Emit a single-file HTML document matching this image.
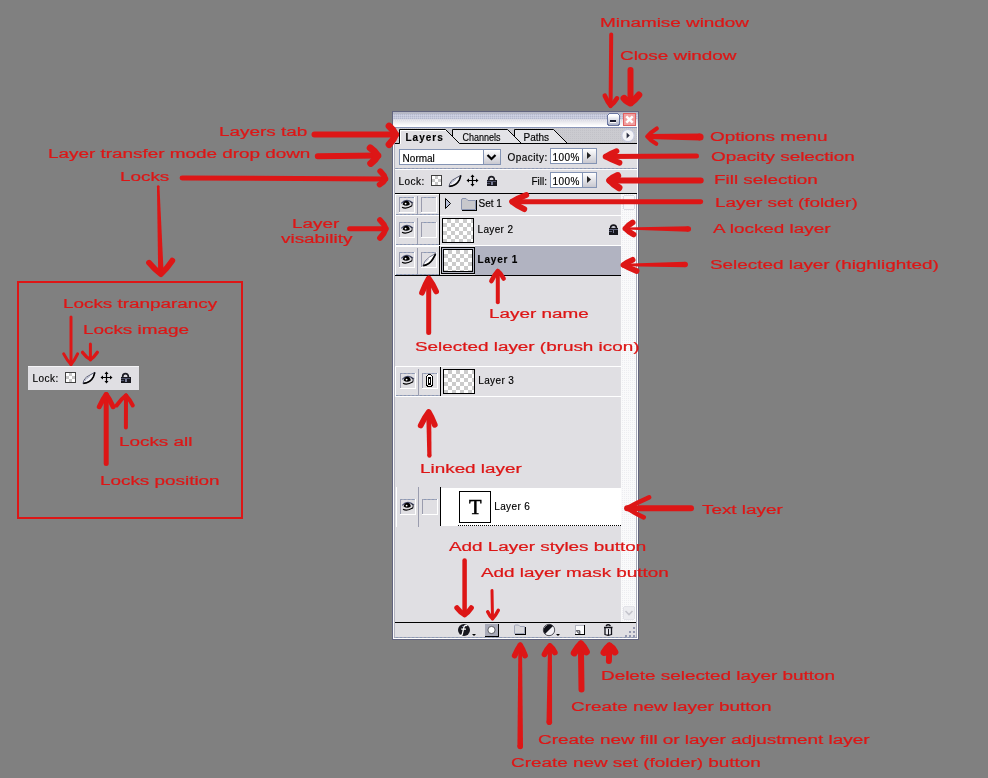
<!DOCTYPE html>
<html><head><meta charset="utf-8"><style>
html,body{margin:0;padding:0;}
body{width:988px;height:778px;background:#808080;position:relative;overflow:hidden;font-family:"Liberation Sans",sans-serif;}
.a{position:absolute;box-sizing:border-box;}
.t{position:absolute;font:12.5px/15px "Liberation Sans",sans-serif;color:#dd1616;transform:scaleX(1.51);transform-origin:0 0;white-space:nowrap;z-index:10;-webkit-text-stroke:0.22px #dd1616;}
.ov{position:absolute;left:0;top:0;z-index:9;}
.ui{position:absolute;font:11px/13px "Liberation Sans",sans-serif;color:#000;white-space:nowrap;}
</style></head><body>
<svg class="pn" width="988" height="778" viewBox="0 0 988 778" style="position:absolute;left:0;top:0;will-change:transform" shape-rendering="geometricPrecision"><style>.pn rect{shape-rendering:crispEdges}</style><defs><pattern id="chk" width="8" height="8" patternUnits="userSpaceOnUse"><rect width="8" height="8" fill="#fff"/><rect width="4" height="4" fill="#cbcbcb"/><rect x="4" y="4" width="4" height="4" fill="#cbcbcb"/></pattern><pattern id="chkL" x="444" y="250" width="8" height="8" patternUnits="userSpaceOnUse"><rect width="8" height="8" fill="#fff"/><rect x="4" width="4" height="4" fill="#cbcbcb"/><rect y="4" width="4" height="4" fill="#cbcbcb"/></pattern><pattern id="dashh" width="4" height="1" patternUnits="userSpaceOnUse"><rect width="4" height="1" fill="#a4a6b8"/><rect width="2" height="1" fill="#8c9ab6"/></pattern><pattern id="dashv" width="1" height="4" patternUnits="userSpaceOnUse"><rect width="1" height="4" fill="#a4a6b8"/><rect width="1" height="2" fill="#8c9ab6"/></pattern><pattern id="dots" width="2" height="2" patternUnits="userSpaceOnUse"><rect width="2" height="2" fill="#cbcbd0"/><rect width="1" height="1" fill="#c2c2c8"/></pattern><pattern id="sdots" width="2" height="2" patternUnits="userSpaceOnUse"><rect width="2" height="2" fill="#fafafb"/><rect width="1" height="1" fill="#ededf1"/></pattern><pattern id="tdots" width="2" height="2" patternUnits="userSpaceOnUse"><rect width="2" height="2" fill="#c4c8dc"/><rect width="1" height="1" fill="#b4b8cc"/><rect x="1" y="1" width="1" height="1" fill="#d0d2e2"/></pattern><pattern id="tdots2" width="2" height="2" patternUnits="userSpaceOnUse"><rect width="2" height="2" fill="#dcdce6"/><rect width="1" height="1" fill="#e8e8ee"/></pattern><linearGradient id="title" x1="0" y1="0" x2="0" y2="1"><stop offset="0" stop-color="#e4e4ea"/><stop offset="1" stop-color="#ffffff"/></linearGradient><linearGradient id="minb" x1="0" y1="0" x2="0" y2="1"><stop offset="0.2" stop-color="#ffffff"/><stop offset="1" stop-color="#a8aec4"/></linearGradient><linearGradient id="btn" x1="0" y1="0" x2="0" y2="1"><stop offset="0" stop-color="#ffffff"/><stop offset="1" stop-color="#c8c8d0"/></linearGradient></defs><defs><pattern id="ck1" x="443" y="219" width="8" height="8" patternUnits="userSpaceOnUse"><rect width="8" height="8" fill="#fff"/><rect x="4" width="4" height="4" fill="#cbcbcb"/><rect y="4" width="4" height="4" fill="#cbcbcb"/></pattern><pattern id="ck2" x="444" y="250" width="8" height="8" patternUnits="userSpaceOnUse"><rect width="8" height="8" fill="#fff"/><rect x="4" width="4" height="4" fill="#cbcbcb"/><rect y="4" width="4" height="4" fill="#cbcbcb"/></pattern><pattern id="ck3" x="444" y="370" width="8" height="8" patternUnits="userSpaceOnUse"><rect width="8" height="8" fill="#fff"/><rect x="4" width="4" height="4" fill="#cbcbcb"/><rect y="4" width="4" height="4" fill="#cbcbcb"/></pattern></defs><rect x="392" y="111" width="247" height="529" fill="#62647e" /><rect x="393" y="112" width="245" height="527" fill="#e0dfe3" /><rect x="393" y="112" width="1" height="527" fill="#f8f8fa" /><rect x="394" y="128" width="1" height="509" fill="#b2b2be" /><rect x="637" y="112" width="1" height="527" fill="#ffffff" /><rect x="636" y="127" width="1" height="511" fill="#a8aab8" /><rect x="393" y="638" width="245" height="1" fill="#ffffff" /><rect x="394" y="637" width="243" height="1" fill="url(#dashh)" /><rect x="393" y="112" width="245" height="2" fill="#b6b8c6" /><rect x="393" y="114" width="245" height="5" fill="url(#tdots)" /><rect x="393" y="119" width="245" height="2" fill="url(#tdots2)" /><rect x="393" y="121" width="245" height="5" fill="url(#title)" /><rect x="393" y="126" width="245" height="1" fill="#ffffff" /><rect x="607.5" y="113.5" width="12" height="12" rx="3" fill="url(#minb)" stroke="#6a76a0"/><rect x="610" y="120" width="6" height="2" fill="#1a1e30" /><rect x="610" y="122" width="6" height="1" fill="#ffffff" /><rect x="623.5" y="113.5" width="12" height="12" rx="1" fill="#f0a0a0" stroke="#e06060"/><path d="M626.3 116.3L632.7 122.7M632.7 116.3L626.3 122.7" stroke="#fff" stroke-width="2.5"/><rect x="394" y="127" width="243" height="1" fill="#8a96b8" /><rect x="394" y="128" width="243" height="15" fill="url(#dots)" /><rect x="394" y="127" width="1" height="17" fill="#8a96b8" /><path d="M514.5 143.5V129.5H553.5L567.5 143.5Z" fill="#e3e3e7"/><path d="M514.5 143.5V129.5H553.5L567.5 143.5" fill="none" stroke="#000" stroke-width="1"/><path d="M452.5 143.5V129.5H507.5L521.5 143.5Z" fill="#e3e3e7"/><path d="M452.5 143.5V129.5H507.5L521.5 143.5" fill="none" stroke="#000" stroke-width="1"/><rect x="395" y="143" width="242" height="1" fill="#000" /><path d="M399.5 144V129.5H445.5L459.5 143.5V144Z" fill="#e0dfe3"/><path d="M399.5 143.5V129.5H445.5L459.5 143.5" fill="none" stroke="#000"/><rect x="400" y="130" width="46" height="1" fill="#ffffff" /><rect x="400" y="130" width="1" height="14" fill="#ffffff" /><text x="0" y="0" transform="translate(405.5 140.7) scale(1.0 1)" font-family="Liberation Sans" font-size="10" font-weight="bold" fill="#000" stroke="#000" stroke-width="0.15" letter-spacing="1.0">Layers</text><text x="0" y="0" transform="translate(462.5 140.7) scale(0.9 1)" font-family="Liberation Sans" font-size="10" font-weight="normal" fill="#000" stroke="#000" stroke-width="0.15">Channels</text><text x="0" y="0" transform="translate(523.5 140.7) scale(1.0 1)" font-family="Liberation Sans" font-size="10" font-weight="normal" fill="#000" stroke="#000" stroke-width="0.15">Paths</text><circle cx="628" cy="135.5" r="6.2" fill="#f4f4f7" stroke="#c4c8dc" stroke-width="1.2"/><path d="M626.6 132.6L629.8 135.6L626.6 138.6Z" fill="#2a2e40"/><rect x="395" y="144" width="242" height="49" fill="#e0dfe3" /><rect x="399" y="149" width="102" height="16" fill="#8494b4" /><rect x="400" y="150" width="100" height="14" fill="#fff" /><rect x="483" y="149" width="1" height="16" fill="#8494b4" /><rect x="484" y="150" width="16" height="14" fill="url(#btn)" /><path d="M487.5 155L491.5 159L495.5 155" fill="none" stroke="#000" stroke-width="2.2"/><text x="0" y="0" transform="translate(402.6 161.7) scale(1.0 1)" font-family="Liberation Sans" font-size="10" font-weight="normal" fill="#000" stroke="#000" stroke-width="0.15">Normal</text><text x="0" y="0" transform="translate(507.5 160.7) scale(1.0 1)" font-family="Liberation Sans" font-size="10" font-weight="normal" fill="#000" stroke="#000" stroke-width="0.15" letter-spacing="0.45">Opacity:</text><rect x="550" y="148" width="47" height="16" fill="#8494b4" /><rect x="551" y="149" width="45" height="14" fill="#fff" /><rect x="582" y="148" width="1" height="16" fill="#8494b4" /><rect x="583" y="149" width="13" height="14" fill="url(#btn)" /><path d="M587 152L591 155.5L587 159Z" fill="#222"/><text x="0" y="0" transform="translate(552.6 160.7) scale(1.0 1)" font-family="Liberation Sans" font-size="10" font-weight="normal" fill="#000" stroke="#000" stroke-width="0.15" letter-spacing="0.4">100%</text><rect x="550" y="172" width="47" height="16" fill="#8494b4" /><rect x="551" y="173" width="45" height="14" fill="#fff" /><rect x="582" y="172" width="1" height="16" fill="#8494b4" /><rect x="583" y="173" width="13" height="14" fill="url(#btn)" /><path d="M587 176L591 179.5L587 183Z" fill="#222"/><text x="0" y="0" transform="translate(552.6 184.7) scale(1.0 1)" font-family="Liberation Sans" font-size="10" font-weight="normal" fill="#000" stroke="#000" stroke-width="0.15" letter-spacing="0.4">100%</text><rect x="395" y="168" width="242" height="1" fill="url(#dashh)" /><rect x="395" y="169" width="242" height="1" fill="#fff" /><text x="0" y="0" transform="translate(398.6 184.7) scale(1.0 1)" font-family="Liberation Sans" font-size="10" font-weight="normal" fill="#000" stroke="#000" stroke-width="0.15" letter-spacing="0.45">Lock:</text><text x="0" y="0" transform="translate(531.5 184.7) scale(1.0 1)" font-family="Liberation Sans" font-size="10" font-weight="normal" fill="#000" stroke="#000" stroke-width="0.15">Fill:</text><rect x="431" y="175" width="11" height="11" fill="#404040" /><rect x="432" y="176" width="9" height="9" fill="#fff" /><rect x="432" y="179" width="3" height="3" fill="#c8c8c8" /><rect x="435" y="176" width="3" height="3" fill="#c8c8c8" /><rect x="435" y="182" width="3" height="3" fill="#c8c8c8" /><rect x="438" y="179" width="3" height="3" fill="#c8c8c8" /><g transform="translate(0 0)"><path d="M449 186.6C449.6 182.6 451.6 180 455 178.6L461 175.2L459.6 179.6C457.8 183.6 454 186.2 449 186.6Z" fill="#f2f2f6" stroke="#4a4e66" stroke-width="0.9"/><path d="M449.4 186.4C454 186 457.6 183.4 459.4 179.8L460.8 175.6" fill="none" stroke="#000" stroke-width="1.6"/><path d="M450.8 184C452 181.8 453.6 180.6 455.6 179.6" fill="none" stroke="#9a9eb8" stroke-width="1"/></g><path d="M472.5 175.5V185.5M467.5 180.5H477.5" stroke="#000" stroke-width="1.2"/><path d="M472.5 174.5L470.5 177.0H474.5ZM472.5 186.5L470.5 184.0H474.5ZM466.5 180.5L469.0 178.5V182.5ZM478.5 180.5L476.0 178.5V182.5Z" fill="#000"/><g transform="translate(0 0)"><path d="M488.7 180.5V179.4A2.8 2.8 0 0 1 494.3 179.4V180.5" fill="none" stroke="#1c1c24" stroke-width="1.7"/><rect x="487" y="180" width="10" height="6" fill="#18181f"/><rect x="487.4" y="180.5" width="9" height="1" fill="#50546c"/><rect x="487.4" y="182.8" width="3" height="0.9" fill="#50546c"/><rect x="491.2" y="182" width="1.6" height="2.8" fill="#7a7e98"/></g><rect x="395" y="193" width="242" height="1" fill="#000" /><rect x="395" y="194" width="226" height="428" fill="#e0dfe3" /><rect x="621" y="194" width="15" height="428" fill="url(#sdots)" /><rect x="623.5" y="195.5" width="11" height="14" rx="2" fill="#f6f6f8" stroke="#dadae2"/><rect x="623.5" y="606.5" width="11" height="13" rx="2" fill="#ececf0" stroke="#e2e2e8"/><path d="M625.5 611L629 614.5L632.5 611" fill="none" stroke="#c4c4cc" stroke-width="1.6"/><rect x="395" y="194" width="44" height="1" fill="#fff" /><rect x="395" y="194" width="1" height="21" fill="#fff" /><rect x="399" y="197" width="16" height="16" fill="#e0dfe3" /><rect x="399" y="197" width="15" height="1" fill="url(#dashh)" /><rect x="399" y="197" width="1" height="15" fill="#9a9cae" /><rect x="399" y="212" width="16" height="1" fill="#fff" /><rect x="414" y="197" width="1" height="16" fill="#fff" /><g shape-rendering="geometricPrecision"><path d="M401.2 203.4Q406.5 197.4 413.0 203.0" stroke="#4a5070" stroke-width="1.1" fill="none"/><path d="M402.6 204.6Q403.2 201.0 406.2 200.8Q409.6 201.0 409.8 204.6Q406.2 207.0 402.6 204.6Z" fill="#000"/><path d="M402.0 207.3Q406.0 209.6 412.0 205.8" stroke="#000" stroke-width="1.1" fill="none"/><path d="M410.6 201.6Q413.2 203.8 411.8 206.0" stroke="#101018" stroke-width="0.9" fill="none"/><circle cx="405.6" cy="203.6" r="0.9" fill="#fff"/></g><rect x="417" y="196" width="1" height="18" fill="#9a9cae" /><rect x="421" y="197" width="16" height="16" fill="#e0dfe3" /><rect x="421" y="197" width="15" height="1" fill="url(#dashh)" /><rect x="421" y="197" width="1" height="15" fill="#9a9cae" /><rect x="421" y="212" width="16" height="1" fill="#fff" /><rect x="436" y="197" width="1" height="16" fill="#fff" /><rect x="396" y="214" width="43" height="1" fill="url(#dashh)" /><rect x="395" y="215" width="226" height="1" fill="#fff" /><rect x="439" y="193" width="1" height="83" fill="#000" /><path d="M445.5 198.5V208.5L450.5 203.5Z" fill="#b8c0d8" stroke="#000"/><path d="M461.5 209.5V200Q461.5 198.5 463 198.5H466L468 200.5H475.5V209.5Z" fill="#c8c8cc" stroke="#8a94b0"/><rect x="462" y="210" width="15" height="1" fill="#000" /><rect x="476" y="200" width="1" height="11" fill="#000" /><text x="0" y="0" transform="translate(478.5 206.7) scale(1.0 1)" font-family="Liberation Sans" font-size="10" font-weight="normal" fill="#000" stroke="#000" stroke-width="0.15">Set 1</text><rect x="395" y="216" width="1" height="29" fill="#fff" /><rect x="399" y="222" width="16" height="16" fill="#e0dfe3" /><rect x="399" y="222" width="15" height="1" fill="url(#dashh)" /><rect x="399" y="222" width="1" height="15" fill="#9a9cae" /><rect x="399" y="237" width="16" height="1" fill="#fff" /><rect x="414" y="222" width="1" height="16" fill="#fff" /><g shape-rendering="geometricPrecision"><path d="M401.2 228.4Q406.5 222.4 413.0 228.0" stroke="#4a5070" stroke-width="1.1" fill="none"/><path d="M402.6 229.6Q403.2 226.0 406.2 225.8Q409.6 226.0 409.8 229.6Q406.2 232.0 402.6 229.6Z" fill="#000"/><path d="M402.0 232.3Q406.0 234.6 412.0 230.8" stroke="#000" stroke-width="1.1" fill="none"/><path d="M410.6 226.6Q413.2 228.8 411.8 231.0" stroke="#101018" stroke-width="0.9" fill="none"/><circle cx="405.6" cy="228.6" r="0.9" fill="#fff"/></g><rect x="417" y="218" width="1" height="26" fill="#9a9cae" /><rect x="421" y="222" width="16" height="16" fill="#e0dfe3" /><rect x="421" y="222" width="15" height="1" fill="url(#dashh)" /><rect x="421" y="222" width="1" height="15" fill="#9a9cae" /><rect x="421" y="237" width="16" height="1" fill="#fff" /><rect x="436" y="222" width="1" height="16" fill="#fff" /><rect x="396" y="244" width="43" height="1" fill="url(#dashh)" /><rect x="395" y="245" width="226" height="1" fill="#fff" /><rect x="442" y="218" width="32" height="25" fill="#000" /><rect x="443" y="219" width="30" height="23" fill="url(#ck1)" /><text x="0" y="0" transform="translate(477.5 232.7) scale(1.0 1)" font-family="Liberation Sans" font-size="10" font-weight="normal" fill="#000" stroke="#000" stroke-width="0.15" letter-spacing="0.35">Layer 2</text><g><path d="M610.6 229V228A2.9 2.9 0 0 1 616.4 228V229" fill="none" stroke="#16161c" stroke-width="1.6"/><path d="M611.9 228.6A1.6 1.6 0 0 1 615.1 228.6" fill="none" stroke="#a4a8bc" stroke-width="0.8"/><rect x="609" y="228.2" width="9" height="6.8" fill="#16161c"/><rect x="609.4" y="228.7" width="8.2" height="0.9" fill="#5c6078"/><rect x="609.4" y="231" width="2.6" height="0.8" fill="#5c6078"/><rect x="612.8" y="230.2" width="1.5" height="3" fill="#787c94"/></g><rect x="395" y="246" width="1" height="29" fill="#fff" /><rect x="395" y="246" width="44" height="1" fill="#fff" /><rect x="399" y="252" width="16" height="16" fill="#e0dfe3" /><rect x="399" y="252" width="15" height="1" fill="url(#dashh)" /><rect x="399" y="252" width="1" height="15" fill="#9a9cae" /><rect x="399" y="267" width="16" height="1" fill="#fff" /><rect x="414" y="252" width="1" height="16" fill="#fff" /><g shape-rendering="geometricPrecision"><path d="M401.2 258.4Q406.5 252.4 413.0 258.0" stroke="#4a5070" stroke-width="1.1" fill="none"/><path d="M402.6 259.6Q403.2 256.0 406.2 255.8Q409.6 256.0 409.8 259.6Q406.2 262.0 402.6 259.6Z" fill="#000"/><path d="M402.0 262.3Q406.0 264.6 412.0 260.8" stroke="#000" stroke-width="1.1" fill="none"/><path d="M410.6 256.6Q413.2 258.8 411.8 261.0" stroke="#101018" stroke-width="0.9" fill="none"/><circle cx="405.6" cy="258.6" r="0.9" fill="#fff"/></g><rect x="417" y="248" width="1" height="26" fill="#9a9cae" /><rect x="421" y="252" width="16" height="16" fill="#e0dfe3" /><rect x="421" y="252" width="15" height="1" fill="url(#dashh)" /><rect x="421" y="252" width="1" height="15" fill="#9a9cae" /><rect x="421" y="267" width="16" height="1" fill="#fff" /><rect x="436" y="252" width="1" height="16" fill="#fff" /><g shape-rendering="geometricPrecision"><path d="M422.8 265.8Q424.5 260 429.5 257L435.8 253.4L433.4 258.8Q429.5 265 422.8 265.8Z" fill="#ffffff" stroke="#5a5e78" stroke-width="0.8"/><path d="M423.2 265.6Q429.5 264.6 432.8 259L435.6 254" fill="none" stroke="#000" stroke-width="1.6"/><path d="M425 262Q427 261 428.5 259" fill="none" stroke="#b0b4c8" stroke-width="1"/></g><rect x="396" y="274" width="43" height="1" fill="url(#dashh)" /><rect x="440" y="246" width="181" height="29" fill="#e0dfe3" /><rect x="475" y="246" width="146" height="29" fill="#b1b3c1" /><rect x="441" y="247" width="34" height="27" fill="#000" /><rect x="442" y="248" width="32" height="25" fill="#b1b3c1" /><rect x="443" y="249" width="30" height="23" fill="#000" /><rect x="444" y="250" width="28" height="21" fill="url(#ck2)" /><text x="0" y="0" transform="translate(477.5 262.7) scale(1.0 1)" font-family="Liberation Sans" font-size="10" font-weight="bold" fill="#000" stroke="#000" stroke-width="0.15" letter-spacing="0.8">Layer 1</text><rect x="395" y="275" width="226" height="1" fill="#000" /><rect x="395" y="366" width="226" height="1" fill="#fff" /><rect x="395" y="366" width="1" height="31" fill="#fff" /><rect x="400" y="373" width="16" height="16" fill="#e0dfe3" /><rect x="400" y="373" width="15" height="1" fill="url(#dashh)" /><rect x="400" y="373" width="1" height="15" fill="#9a9cae" /><rect x="400" y="388" width="16" height="1" fill="#fff" /><rect x="415" y="373" width="1" height="16" fill="#fff" /><g shape-rendering="geometricPrecision"><path d="M402.2 379.4Q407.5 373.4 414.0 379.0" stroke="#4a5070" stroke-width="1.1" fill="none"/><path d="M403.6 380.6Q404.2 377.0 407.2 376.8Q410.6 377.0 410.8 380.6Q407.2 383.0 403.6 380.6Z" fill="#000"/><path d="M403.0 383.3Q407.0 385.6 413.0 381.8" stroke="#000" stroke-width="1.1" fill="none"/><path d="M411.6 377.6Q414.2 379.8 412.8 382.0" stroke="#101018" stroke-width="0.9" fill="none"/><circle cx="406.6" cy="379.6" r="0.9" fill="#fff"/></g><rect x="418" y="369" width="1" height="26" fill="#9a9cae" /><rect x="422" y="373" width="16" height="16" fill="#e0dfe3" /><rect x="422" y="373" width="15" height="1" fill="url(#dashh)" /><rect x="422" y="373" width="1" height="15" fill="#9a9cae" /><rect x="422" y="388" width="16" height="1" fill="#fff" /><rect x="437" y="373" width="1" height="16" fill="#fff" /><g shape-rendering="geometricPrecision"><rect x="426" y="374" width="7" height="13.5" rx="3.5" fill="#000"/><rect x="427" y="375.2" width="5" height="11.1" rx="2.5" fill="#fff"/><rect x="428" y="376.5" width="3" height="8.8" rx="1.5" fill="#000"/><rect x="429.1" y="379" width="0.9" height="3.8" fill="#fff"/></g><rect x="396" y="395" width="44" height="1" fill="url(#dashh)" /><rect x="395" y="396" width="226" height="1" fill="#fff" /><rect x="440" y="367" width="1" height="29" fill="#000" /><rect x="443" y="369" width="32" height="25" fill="#000" /><rect x="444" y="370" width="30" height="23" fill="url(#ck3)" /><text x="0" y="0" transform="translate(478.3 383.7) scale(1.0 1)" font-family="Liberation Sans" font-size="10" font-weight="normal" fill="#000" stroke="#000" stroke-width="0.15" letter-spacing="0.35">Layer 3</text><rect x="396" y="487" width="1" height="40" fill="#fff" /><rect x="400" y="499" width="16" height="16" fill="#e0dfe3" /><rect x="400" y="499" width="15" height="1" fill="url(#dashh)" /><rect x="400" y="499" width="1" height="15" fill="#9a9cae" /><rect x="400" y="514" width="16" height="1" fill="#fff" /><rect x="415" y="499" width="1" height="16" fill="#fff" /><g shape-rendering="geometricPrecision"><path d="M402.2 505.4Q407.5 499.4 414.0 505.0" stroke="#4a5070" stroke-width="1.1" fill="none"/><path d="M403.6 506.6Q404.2 503.0 407.2 502.8Q410.6 503.0 410.8 506.6Q407.2 509.0 403.6 506.6Z" fill="#000"/><path d="M403.0 509.3Q407.0 511.6 413.0 507.8" stroke="#000" stroke-width="1.1" fill="none"/><path d="M411.6 503.6Q414.2 505.8 412.8 508.0" stroke="#101018" stroke-width="0.9" fill="none"/><circle cx="406.6" cy="505.6" r="0.9" fill="#fff"/></g><rect x="418" y="487" width="1" height="40" fill="#9a9cae" /><rect x="422" y="499" width="16" height="16" fill="#e0dfe3" /><rect x="422" y="499" width="15" height="1" fill="url(#dashh)" /><rect x="422" y="499" width="1" height="15" fill="#9a9cae" /><rect x="422" y="514" width="16" height="1" fill="#fff" /><rect x="437" y="499" width="1" height="16" fill="#fff" /><rect x="440" y="487" width="1" height="39" fill="#000" /><rect x="441" y="488" width="180" height="38" fill="#fff" /><rect x="459" y="491" width="32" height="32" fill="#000" /><rect x="460" y="492" width="30" height="30" fill="#fff" /><text x="469" y="514.2" font-family="Liberation Serif" font-size="20.5" fill="#000" stroke="#000" stroke-width="0.55">T</text><text x="0" y="0" transform="translate(494.3 509.7) scale(1.0 1)" font-family="Liberation Sans" font-size="10" font-weight="normal" fill="#000" stroke="#000" stroke-width="0.15" letter-spacing="0.35">Layer 6</text><path d="M458 525.5H621" stroke="#000" stroke-width="1" stroke-dasharray="1 1"/><rect x="395" y="622" width="241" height="1" fill="#000" /><rect x="395" y="623" width="241" height="14" fill="#e0dfe3" /><circle cx="464" cy="630" r="6" fill="#18181f"/><path d="M462 626.5L465 626.5" stroke="#6c7090" stroke-width="1"/><path d="M467.2 625.6Q464.6 624.6 463.8 627.6L462.2 634.6Q461.6 636 459.8 635.2M461.2 629.2H466" stroke="#fff" stroke-width="1.3" fill="none"/><path d="M472 634H476L474 636Z" fill="#000"/><rect x="485" y="624" width="14" height="13" fill="#000" /><rect x="485" y="624" width="13" height="12" fill="#a8aab8" /><circle cx="491.5" cy="630" r="3.6" fill="#fff" stroke="#404048" stroke-width="0.8"/><path d="M514.5 633.5V626Q514.5 625 515.5 625H518.5L520 626.5H524.5V633.5Z" fill="#d8d8dc" stroke="#a0a4b8"/><rect x="515" y="634" width="11" height="1" fill="#000" /><rect x="525" y="627" width="1" height="8" fill="#000" /><circle cx="549" cy="630" r="5.7" fill="#f0f0f4" stroke="#505058" stroke-width="1"/><path d="M545 634L553 626A5.7 5.7 0 0 0 545 634Z" fill="#101018"/><path d="M556 634H560L558 636Z" fill="#000"/><rect x="575" y="625" width="10" height="10" fill="#000" /><rect x="575" y="625" width="9" height="9" fill="#b4b6c2" /><rect x="576" y="626" width="8" height="8" fill="#fbfbfc" /><path d="M576.2 630.8H579.8V634M576.6 631.2L579.4 633.8" fill="none" stroke="#2a2a34" stroke-width="1"/><path d="M604 627.5H612.5M605 628V634.5Q608 636 611.5 634.5V628" fill="#e8e8ee" stroke="#101018" stroke-width="1.3"/><path d="M606 626Q608 623.5 610.5 626" fill="none" stroke="#101018" stroke-width="1.3"/><rect x="608" y="629" width="1" height="6" fill="#101018" /><rect x="633" y="627" width="2" height="2" fill="#9498b0" /><rect x="629" y="631" width="2" height="2" fill="#9498b0" /><rect x="633" y="631" width="2" height="2" fill="#9498b0" /><rect x="625" y="635" width="2" height="2" fill="#9498b0" /><rect x="629" y="635" width="2" height="2" fill="#9498b0" /><rect x="633" y="635" width="2" height="2" fill="#9498b0" /><rect x="28" y="366" width="111" height="24" fill="#e0dfe3" /><rect x="28" y="366" width="111" height="1" fill="#f4f4f6" /><text x="0" y="0" transform="translate(32.60000000000002 381.7) scale(1.0 1)" font-family="Liberation Sans" font-size="10" font-weight="normal" fill="#000" stroke="#000" stroke-width="0.15" letter-spacing="0.45">Lock:</text><rect x="65" y="372" width="11" height="11" fill="#404040" /><rect x="66" y="373" width="9" height="9" fill="#fff" /><rect x="66" y="376" width="3" height="3" fill="#c8c8c8" /><rect x="69" y="373" width="3" height="3" fill="#c8c8c8" /><rect x="69" y="379" width="3" height="3" fill="#c8c8c8" /><rect x="72" y="376" width="3" height="3" fill="#c8c8c8" /><g transform="translate(-366 197)"><path d="M449 186.6C449.6 182.6 451.6 180 455 178.6L461 175.2L459.6 179.6C457.8 183.6 454 186.2 449 186.6Z" fill="#f2f2f6" stroke="#4a4e66" stroke-width="0.9"/><path d="M449.4 186.4C454 186 457.6 183.4 459.4 179.8L460.8 175.6" fill="none" stroke="#000" stroke-width="1.6"/><path d="M450.8 184C452 181.8 453.6 180.6 455.6 179.6" fill="none" stroke="#9a9eb8" stroke-width="1"/></g><path d="M106.5 372.5V382.5M101.5 377.5H111.5" stroke="#000" stroke-width="1.2"/><path d="M106.5 371.5L104.5 374.0H108.5ZM106.5 383.5L104.5 381.0H108.5ZM100.5 377.5L103.0 375.5V379.5ZM112.5 377.5L110.0 375.5V379.5Z" fill="#000"/><g transform="translate(-366 197)"><path d="M488.7 180.5V179.4A2.8 2.8 0 0 1 494.3 179.4V180.5" fill="none" stroke="#1c1c24" stroke-width="1.7"/><rect x="487" y="180" width="10" height="6" fill="#18181f"/><rect x="487.4" y="180.5" width="9" height="1" fill="#50546c"/><rect x="487.4" y="182.8" width="3" height="0.9" fill="#50546c"/><rect x="491.2" y="182" width="1.6" height="2.8" fill="#7a7e98"/></g></svg>
<div class="a" style="left:17px;top:281px;width:226px;height:238px;border:2px solid #dd1616"></div>
<svg class="ov" width="988" height="778" viewBox="0 0 988 778"><g fill="none" stroke="#dd1616" stroke-linecap="round" stroke-linejoin="round"><path d="M611.2 34.6L610.6 105.7" stroke-width="4"/><path d="M604.8 95.7Q607.7 102.3 610.6 105.7M617.0 98.3Q613.8 103.6 610.6 105.7" stroke-width="4.60"/><path d="M630.5 70L630.5 102.9" stroke-width="6"/><path d="M624.0 98.3Q627.2 102.2 630.5 102.9M638.8 95.0Q634.6 100.5 630.5 102.9" stroke-width="6.90"/><path d="M314.5 134.5L395.6 134.5" stroke-width="6"/><path d="M389.1 126.1Q393.9 130.3 395.6 134.5M389.1 144.5Q393.9 139.5 395.6 134.5" stroke-width="6.90"/><path d="M317.8 156.2L377.8 155.6" stroke-width="6"/><path d="M370.2 147.9Q375.6 151.7 377.8 155.6M370.7 163.4Q375.8 159.5 377.8 155.6" stroke-width="6.90"/><path d="M182.1 177.9L385.4 179.0" stroke-width="5"/><path d="M380.2 171.2Q384.4 175.1 385.4 179.0M379.6 184.6Q384.1 181.8 385.4 179.0" stroke-width="5.75"/><path d="M156.95 186.44L158.19 274.17L163.69 274.00L159.45 186.36Z" fill="#dd1616" stroke="none"/><circle cx="158.2" cy="186.4" r="1.25" fill="#dd1616" stroke="none"/><path d="M149.0 262.7Q155.0 270.0 160.9 274.1M172.3 260.6Q166.7 268.9 160.9 274.1" stroke-width="5.75"/><path d="M700.14 133.60L647.30 134.02L647.24 139.02L700.06 140.60Z" fill="#dd1616" stroke="none"/><circle cx="700.1" cy="137.1" r="3.5" fill="#dd1616" stroke="none"/><path d="M656.8 128.5Q650.4 132.5 647.3 136.5M656.2 143.8Q650.1 140.1 647.3 136.5" stroke-width="4.20"/><path d="M696.5 156L605.7 156.6" stroke-width="5"/><path d="M616.5 151.1Q609.5 153.9 605.7 156.6M619.5 162.7Q611.0 159.7 605.7 156.6" stroke-width="5.75"/><path d="M700.7 180.4L609.7 180.4" stroke-width="6"/><path d="M617.7 175.5Q612.1 177.9 609.7 180.4M619.0 187.8Q612.8 184.1 609.7 180.4" stroke-width="6.90"/><path d="M700.7 201.8L512.1 201.7" stroke-width="5"/><path d="M526.3 195.0Q517.6 198.3 512.1 201.7M524.3 209.2Q516.6 205.4 512.1 201.7" stroke-width="5.75"/><path d="M688.32 226.25L625.52 227.42L625.50 229.62L688.28 231.75Z" fill="#dd1616" stroke="none"/><circle cx="688.3" cy="229" r="2.75" fill="#dd1616" stroke="none"/><path d="M632.6 222.4Q627.5 225.4 625.5 228.5M633.6 234.5Q628.0 231.5 625.5 228.5" stroke-width="5.75"/><path d="M685.18 261.75L623.50 263.64L623.52 266.14L685.22 267.25Z" fill="#dd1616" stroke="none"/><circle cx="685.2" cy="264.5" r="2.75" fill="#dd1616" stroke="none"/><path d="M632.6 259.8Q626.5 262.4 623.5 264.9M636.6 271.0Q628.5 268.0 623.5 264.9" stroke-width="5.75"/><path d="M349.6 228.7L385.8 228.7" stroke-width="5"/><path d="M380.0 220.0Q384.5 224.3 385.8 228.7M380.0 237.9Q384.5 233.3 385.8 228.7" stroke-width="5.75"/><path d="M428.7 332.5L428.7 278.6" stroke-width="5"/><path d="M422.0 292.7Q425.4 284.1 428.7 278.6M436.1 291.4Q432.4 283.4 428.7 278.6" stroke-width="5.75"/><path d="M497.8 302.3L497.8 271.2" stroke-width="4"/><path d="M491.4 281.1Q494.6 274.6 497.8 271.2M503.6 278.5Q500.7 273.3 497.8 271.2" stroke-width="4.60"/><path d="M431.50 455.67L431.23 412.07L426.23 412.15L427.30 455.73Z" fill="#dd1616" stroke="none"/><circle cx="429.4" cy="455.7" r="2.1" fill="#dd1616" stroke="none"/><path d="M420.7 425.5Q424.7 417.2 428.7 412.1M434.8 424.9Q431.7 416.9 428.7 412.1" stroke-width="5.75"/><path d="M691 508.2L627.1 508.2" stroke-width="6"/><path d="M649.1 497.3Q636.5 502.8 627.1 508.2M643.7 517.3Q633.8 512.8 627.1 508.2" stroke-width="4.60"/><path d="M464.6 560.6L464.6 614.7" stroke-width="4.5"/><path d="M456.9 607.8Q460.8 612.8 464.6 614.7M471.3 607.8Q468.0 612.8 464.6 614.7" stroke-width="5.17"/><path d="M492 590.5L492.5 618.7" stroke-width="3"/><path d="M487.7 611.7Q490.1 616.8 492.5 618.7M498.3 610.2Q495.4 616.0 492.5 618.7" stroke-width="3.45"/><path d="M523.00 746.50L522.00 645.41L518.40 645.41L517.40 746.50Z" fill="#dd1616" stroke="none"/><circle cx="520.2" cy="746.5" r="2.8" fill="#dd1616" stroke="none"/><path d="M514.7 655.5Q517.5 648.9 520.2 645.4M525.0 655.5Q522.6 648.9 520.2 645.4" stroke-width="5.75"/><path d="M552.10 722.23L551.93 646.03L548.03 645.99L546.50 722.17Z" fill="#dd1616" stroke="none"/><circle cx="549.3" cy="722.2" r="2.8" fill="#dd1616" stroke="none"/><path d="M544.5 654.3Q547.3 648.6 550.0 646.0M554.8 652.5Q552.4 647.7 550.0 646.0" stroke-width="5.75"/><path d="M581.5 689.5L580.9 643.9" stroke-width="6"/><path d="M574.2 653.0Q577.5 646.9 580.9 643.9M586.4 651.9Q583.6 646.3 580.9 643.9" stroke-width="6.90"/><path d="M608.9 661L609.4 645.8" stroke-width="6"/><path d="M604.0 652.5Q606.8 647.6 609.4 645.8M614.9 651.9Q612.2 647.3 609.4 645.8" stroke-width="6.90"/><path d="M71 316.9L71.0 364.4" stroke-width="3"/><path d="M63.7 353.9Q67.3 360.8 71.0 364.4M77.6 353.9Q74.3 360.8 71.0 364.4" stroke-width="3.00"/><path d="M90.4 343.9L90.4 359.6" stroke-width="3"/><path d="M82.6 352.4Q86.5 357.6 90.4 359.6M97.3 352.4Q93.8 357.6 90.4 359.6" stroke-width="3.40"/><path d="M106.2 463.4L106.2 394.6" stroke-width="5"/><path d="M99.3 406.7Q102.8 399.0 106.2 394.6M113.1 406.7Q109.7 399.0 106.2 394.6" stroke-width="5.00"/><path d="M125.9 427.5L126.0 395.4" stroke-width="4"/><path d="M116.6 405.5Q121.3 398.9 126.0 395.4M132.8 405.5Q129.4 398.9 126.0 395.4" stroke-width="4.00"/></g></svg>
<div class="t" style="left:599.5px;top:15.8px">Minamise window</div>
<div class="t" style="left:619.5px;top:48.8px">Close window</div>
<div class="t" style="left:218.8px;top:124.8px">Layers tab</div>
<div class="t" style="left:47.6px;top:146.8px">Layer transfer mode drop down</div>
<div class="t" style="left:120.3px;top:169.8px">Locks</div>
<div class="t" style="left:710.2px;top:129.8px">Options menu</div>
<div class="t" style="left:711.4px;top:149.8px">Opacity selection</div>
<div class="t" style="left:713.9px;top:172.8px">Fill selection</div>
<div class="t" style="left:714.7px;top:195.8px">Layer set (folder)</div>
<div class="t" style="left:712.9px;top:221.8px">A locked layer</div>
<div class="t" style="left:710.1px;top:257.8px">Selected layer (highlighted)</div>
<div class="t" style="left:292.4px;top:216.8px">Layer</div>
<div class="t" style="left:280.5px;top:231.8px">visability</div>
<div class="t" style="left:489.1px;top:307.3px">Layer name</div>
<div class="t" style="left:414.9px;top:339.8px">Selected layer (brush icon)</div>
<div class="t" style="left:420.3px;top:461.8px">Linked layer</div>
<div class="t" style="left:701.5px;top:502.8px">Text layer</div>
<div class="t" style="left:449.1px;top:539.8px">Add Layer styles button</div>
<div class="t" style="left:481.3px;top:565.8px">Add layer mask button</div>
<div class="t" style="left:600.8px;top:669.3px">Delete selected layer button</div>
<div class="t" style="left:571.2px;top:699.8px">Create new layer button</div>
<div class="t" style="left:538.3px;top:732.8px">Create new fill or layer adjustment layer</div>
<div class="t" style="left:510.5px;top:755.8px">Create new set (folder) button</div>
<div class="t" style="left:63.3px;top:297.0px">Locks tranparancy</div>
<div class="t" style="left:82.9px;top:322.8px">Locks image</div>
<div class="t" style="left:119.0px;top:435.1px">Locks all</div>
<div class="t" style="left:100.3px;top:474.1px">Locks position</div>
</body></html>
